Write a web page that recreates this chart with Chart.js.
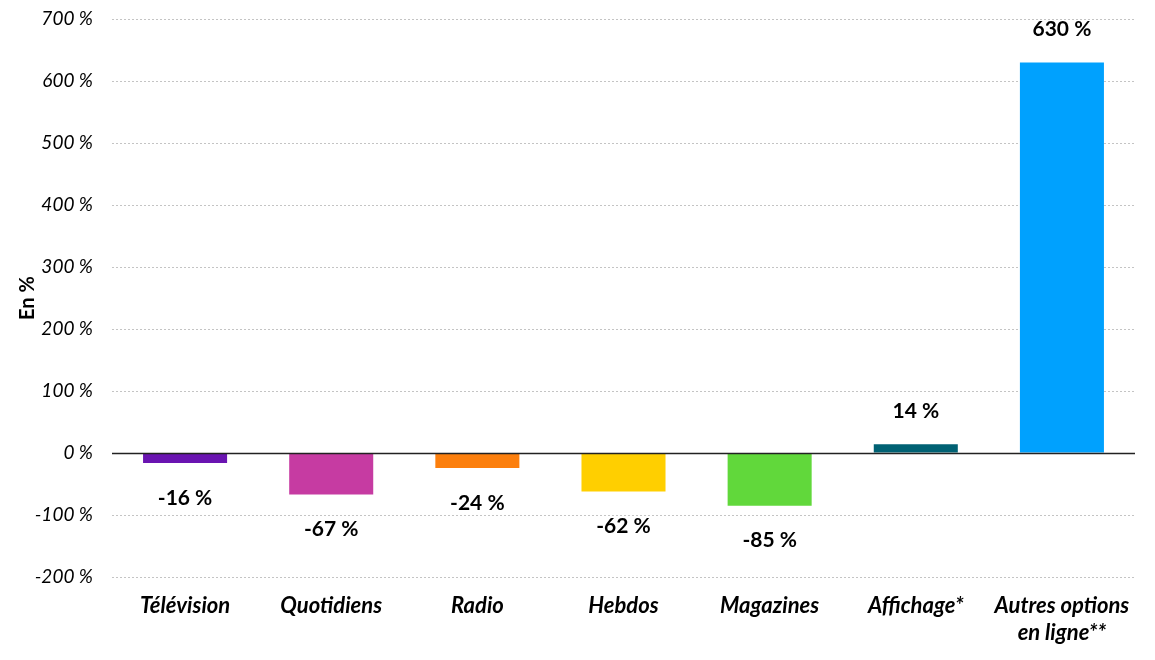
<!DOCTYPE html>
<html>
<head>
<meta charset="UTF-8">
<title>Variation des revenus publicitaires</title>
<script src="https://cdn.jsdelivr.net/npm/chart.js"></script>
<style>
html, body { margin: 0; padding: 0; background: #fff; }
#wrap { width: 1155px; height: 660px; }
</style>
</head>
<body>
<div id="wrap"><canvas id="myChart" width="1155" height="660"></canvas></div>
<script>
// donnees du graphique
const categories = ['Télévision', 'Quotidiens', 'Radio', 'Hebdos', 'Magazines', 'Affichage*', ['Autres options', 'en ligne**']];
const values = [-16, -67, -24, -62, -85, 14, 630];
const barColors = ['#6a14b1', '#c63ba2', '#fc7f0d', '#ffcf00', '#61d83b', '#006173', '#00a1fe'];
const yTicks = [-200, -100, 0, 100, 200, 300, 400, 500, 600, 700];

const FONT = 'Lato, "Open Sans", sans-serif';

// etiquettes de valeur + ligne du zero
const labelPlugin = {
	id: 'valueLabels',
	afterDatasetsDraw(chart) {
		const ctx = chart.ctx;
		const y = chart.scales.y;
		const area = chart.chartArea;
		// ligne du zero
		const y0 = Math.round(y.getPixelForValue(0)) + 0.5;
		ctx.save();
		ctx.strokeStyle = '#222';
		ctx.lineWidth = 1.3;
		ctx.beginPath();
		ctx.moveTo(area.left, y0);
		ctx.lineTo(area.right, y0);
		ctx.stroke();

		ctx.font = 'bold 21px ' + FONT;
		ctx.fillStyle = '#000';
		ctx.textAlign = 'center';
		ctx.textBaseline = 'middle';
		chart.getDatasetMeta(0).data.forEach(function(bar, i) {
			const v = values[i];
			const yy = v >= 0 ? bar.y - 33 : bar.y + 35;
			ctx.fillText(v + ' %', bar.x, yy);
		});
		ctx.restore();
	}
};

const ctx = document.getElementById('myChart').getContext('2d');
const myChart = new Chart(ctx, {
	type: 'bar',
	data: {
		labels: categories,
		datasets: [{
			data: values,
			backgroundColor: barColors,
			borderWidth: 0,
			categoryPercentage: 1,
			barPercentage: 0.575
		}]
	},
	options: {
		responsive: false,
		animation: false,
		layout: { padding: { top: 19, right: 20, left: 0, bottom: 0 } },
		plugins: {
			legend: { display: false },
			tooltip: { enabled: false }
		},
		scales: {
			x: {
				afterFit(axis) { axis.height = 83; axis.paddingLeft = 0; axis.paddingRight = 0; },
				grid: { display: false, drawTicks: false },
				border: { display: false },
				ticks: {
					color: '#000',
					padding: 15,
					maxRotation: 0,
					font: { family: FONT, size: 22, weight: 'bold', style: 'italic', lineHeight: 1.24 }
				}
			},
			y: {
				min: -200,
				max: 700,
				afterBuildTicks(axis) {
					axis.ticks = yTicks.map(v => ({ value: v }));
				},
				afterFit(axis) { axis.width = 112; axis.paddingTop = 0; axis.paddingBottom = 0; },
				grid: { color: '#c4c4c4', lineWidth: 1, drawTicks: false },
				border: { display: false, dash: [2, 2] },
				ticks: {
					color: '#000',
					padding: 19,
					font: { family: FONT, size: 19, style: 'italic' },
					callback: v => v + ' %'
				},
				title: {
					display: true,
					text: 'En %',
					color: '#000',
					padding: { top: 16, bottom: 6 },
					font: { family: FONT, size: 20, weight: 'bold' }
				}
			}
		}
	},
	plugins: [labelPlugin]
});
</script>
</body>
</html>
